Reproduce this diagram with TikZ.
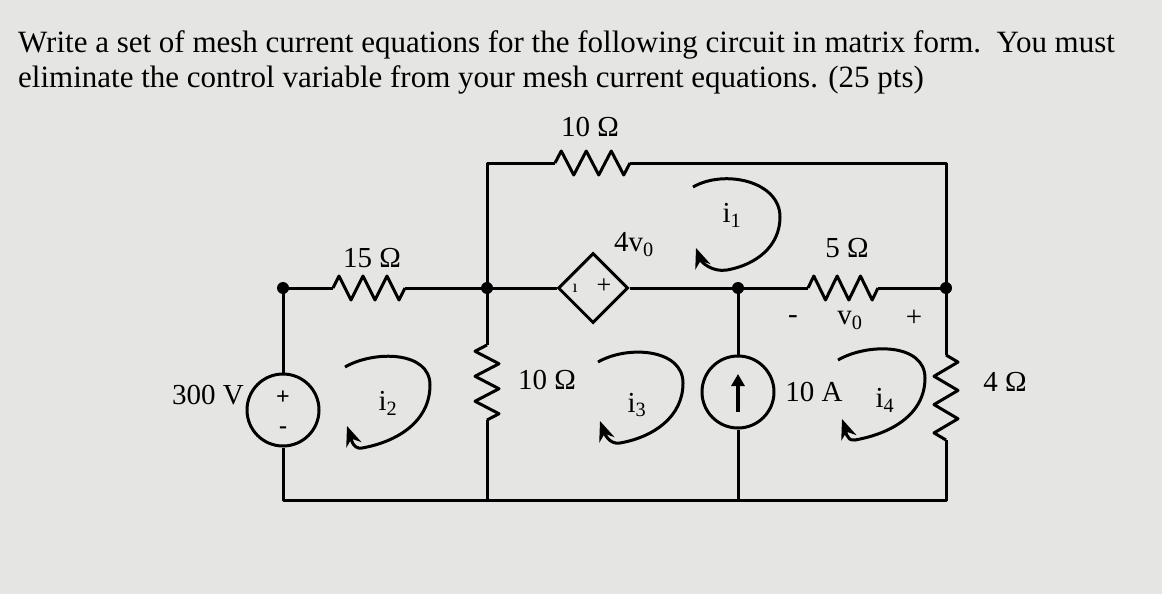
\documentclass[tikz,border=0pt]{standalone}
\usepackage{fontspec}
\setmainfont{Liberation Serif}
\usetikzlibrary{arrows.meta,shapes.geometric}
\begin{document}
\begin{tikzpicture}[x=1pt,y=-1pt,
  wire/.style={line width=3pt,line join=round},
  lbl/.style={font=\fontsize{29}{31}\selectfont,inner sep=0pt},
  mesh/.style={line width=3pt,-{Stealth[length=20pt,width=16pt]}},
  dot/.style={circle,fill=black,inner sep=0pt,minimum size=12pt}]
\fill[color={rgb,255:red,229;green,229;blue,227}] (0,0) rectangle (1162,594);
\useasboundingbox (0,0) rectangle (1162,594);
\def\H(#1,#2,#3){%
  \draw[wire] (#1,#3) \foreach \k in {0,...,5}{ -- ({#1+(#2-#1)*(2*\k+1)/12},{#3+(\k==0||\k==2||\k==4 ? -12 : 12)})} -- (#2,#3);}
\def\V(#1,#2,#3){%
  \draw[wire] (#3,#1) \foreach \k in {0,...,5}{ -- ({#3+(\k==0||\k==2||\k==4 ? -12 : 12)},{#1+(#2-#1)*(2*\k+1)/12})} -- (#3,#2);}
% title
\node[anchor=west,inner sep=0pt,font=\fontsize{31}{34}\selectfont] (t1) at (18,45) {Write a set of mesh current equations for the following circuit in matrix form.\ \ You must};
\node[anchor=west,inner sep=0pt,font=\fontsize{31}{34}\selectfont] (t2) at (18,80) {eliminate the control variable from your mesh current equations. (25 pts)};
% coordinates
\coordinate (A) at (283,288); \coordinate (B) at (487,288);
\coordinate (C) at (738,288); \coordinate (D) at (946,288);
\coordinate (TL) at (487,163); \coordinate (TR) at (946,163);
\coordinate (BL) at (283,500); \coordinate (BR) at (946,500);
\node[draw,line width=3pt,circle,minimum size=72pt,inner sep=0pt] (vs) at (283,410) {};
\node[draw,line width=3pt,circle,minimum size=72pt,inner sep=0pt] (cs) at (738,392) {};
\node[draw,line width=3pt,diamond,minimum size=70pt,inner sep=0pt,shape aspect=1] (dep) at (593,288) {};
% wires
\draw[wire] (A) -- (333,288); \H(333,405,288) \draw[wire] (405,288) -- (B);
\draw[wire] (A) -- (vs.north); \draw[wire] (vs.south) -- (BL) -- (BR) -- (946,440);
\V(440,355,946) \draw[wire] (946,355) -- (D) -- (TR) -- (630,163); \H(555,630,163) \draw[wire] (555,163) -- (TL) -- (B);
\draw[wire] (B) -- (dep.west); \draw[wire] (dep.east) -- (C) -- (808,288); \H(808,878,288) \draw[wire] (878,288) -- (D);
\draw[wire] (B) -- (487,345); \V(345,420,487) \draw[wire] (487,420) -- (487,500);
\draw[wire] (C) -- (cs.north); \draw[wire] (cs.south) -- (738,500);
\draw[line width=3.5pt,-{Triangle[length=12pt,width=13pt]}] (738,412) -- (738,374);
\foreach \p in {A,B,C,D} \node[dot] at (\p) {};
% signs
\node[lbl,font=\fontsize{24}{26}\selectfont\bfseries] at (283,398) {+};
\node[lbl,font=\fontsize{24}{26}\selectfont\bfseries] at (283,430) {-};
\node[lbl,font=\fontsize{18}{20}\selectfont] at (575,288) {ı};
\node[lbl,font=\fontsize{26}{28}\selectfont] at (604,286) {+};
% labels
\node[lbl] (l1) at (590,127) {10 Ω};
\node[lbl] (l2) at (372,258) {15 Ω};
\node[lbl] (l3) at (208,395) {300 V};
\node[lbl] (l4) at (547,380) {10 Ω};
\node[lbl] (l5) at (634,245) {4v\textsubscript{0}};
\node[lbl] (l6) at (847,248) {5 Ω};
\node[lbl] (l7) at (793,320) {-};
\node[lbl] (l8) at (850,320) {v\textsubscript{0}};
\node[lbl] (l9) at (914,318) {+};
\node[lbl] (l10) at (814,392) {10 A};
\node[lbl] (l11) at (1005,382) {4 Ω};
\node[lbl] (m1) at (732,215) {i\textsubscript{1}};
\node[lbl] (m2) at (388,403) {i\textsubscript{2}};
\node[lbl] (m3) at (637,405) {i\textsubscript{3}};
\node[lbl] (m4) at (885,400) {i\textsubscript{4}};
% mesh arrows
\draw[mesh] (693,187) to[out=30,in=90] (780,217) to[out=-90,in=10] (727,270) to[out=190,in=-70] (696,248);
\draw[mesh] (345,367) to[out=30,in=90] (430,385) to[out=-90,in=10] (362,448) to[out=190,in=-70] (347,426);
\draw[mesh] (598,362) to[out=30,in=90] (683,383) to[out=-90,in=10] (620,443) to[out=190,in=-70] (600,421);
\draw[mesh] (838,360) to[out=30,in=90] (925,378) to[out=-90,in=10] (855,440) to[out=190,in=-70] (842,419);
\end{tikzpicture}
\end{document}
